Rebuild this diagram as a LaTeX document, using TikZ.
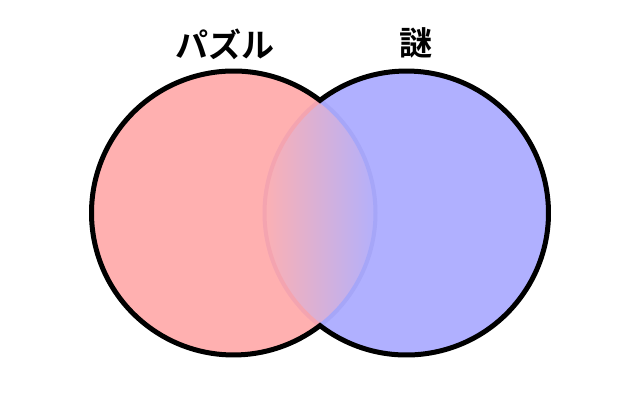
\documentclass[tikz,border=0pt]{standalone}
\usepackage{fontspec}
\newfontfamily\jpfont{Noto Sans CJK JP}[BoldFont={Noto Sans CJK JP Bold}]
\definecolor{pinkfill}{HTML}{FFB0B0}
\definecolor{bluefill}{HTML}{B0B0FF}
\definecolor{arcpink}{HTML}{F4A4B0}
\definecolor{arcblue}{HTML}{A6A6F8}
\tikzset{
  outline/.style={draw=black, line width=5pt, line join=miter},
  innerarc/.style={line width=4pt},
  label/.style={font=\jpfont\bfseries\fontsize{33}{36}\selectfont, inner sep=0pt}
}
\begin{document}
\begin{tikzpicture}[x=1pt,y=1pt]
\useasboundingbox (0,0) rectangle (640,400);
\def\R{142}
\coordinate (cl) at (233.5,187);
\coordinate (cr) at (406.5,187);
\pgfmathsetmacro{\ang}{acos(86.5/\R)}
\pgfmathsetmacro{\hh}{\R*sin(\ang)}
\coordinate (top) at (320,187+\hh);
\coordinate (bot) at (320,187-\hh);
% fills
\fill[pinkfill] (cl) circle (\R);
\fill[bluefill] (cr) circle (\R);
% lens with gradient
\shade[left color=pinkfill, right color=bluefill]
  (top) arc[start angle=\ang, end angle=-\ang, radius=\R]
  arc[start angle=180+\ang, end angle=180-\ang, radius=\R] -- cycle;
% faint inner arcs
\draw[innerarc, draw=arcpink] (top) arc[start angle=180-\ang, end angle=180+\ang, radius=\R];
\draw[innerarc, draw=arcblue] (top) arc[start angle=\ang, end angle=-\ang, radius=\R];
% outer outline
\draw[outline] (top) arc[start angle=\ang, end angle=360-\ang, radius=\R]
  arc[start angle=180+\ang, end angle=540-\ang, radius=\R] -- cycle;
% labels
\node[label] (puzzle) at (225,355.5) {パズル};
\node[label] (nazo) at (416.3,357.5) {謎};
\end{tikzpicture}
\end{document}
